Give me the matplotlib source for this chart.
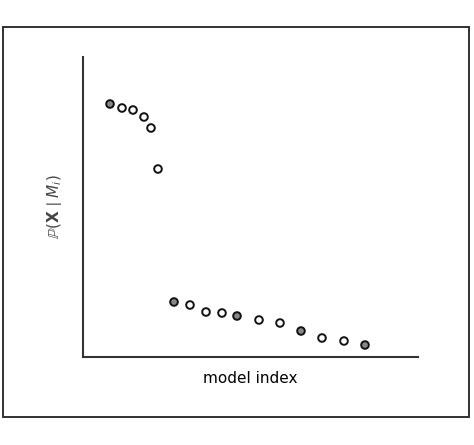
import matplotlib
matplotlib.use("Agg")
import matplotlib.pyplot as plt
from matplotlib.patches import Rectangle

model_x = [110,122,133,144,151,158,174,190,206,222,237,259,280,301,322,344,365]
likelihood = [253,249,247,240,229,188,55,52,45,44,41,37,34,26,19,16,12]
filled = [1,0,0,0,0,0,1,0,0,0,1,0,0,1,0,0,1]

W, H = 474, 445
fig = plt.figure(figsize=(W/100, H/100), dpi=100)
fig.patches.append(Rectangle((3/W, 1-417/H), 466/W, 390/H, transform=fig.transFigure,
                             fill=False, edgecolor='#222222', linewidth=1.3))
ax = fig.add_axes([83/W, 1-357/H, (418-83)/W, 300/H])
ax.set_xlim(83, 418); ax.set_ylim(0, 300)
colors = ['#888888' if f else 'white' for f in filled]
ax.scatter(model_x, likelihood, s=30, c=colors, edgecolors='#111111', linewidths=1.4, zorder=3)
for s in ['top','right']:
    ax.spines[s].set_visible(False)
for s in ['left','bottom']:
    ax.spines[s].set_linewidth(1.5); ax.spines[s].set_color('#333333')
ax.set_xticks([]); ax.set_yticks([])
ax.set_xlabel('model index', fontsize=11, labelpad=10)
ax.set_ylabel(r'$\mathbb{P}(\mathbf{X}\mid M_i)$', fontsize=11, labelpad=14, color='#444444')
fig.savefig('out.png', dpi=100)
